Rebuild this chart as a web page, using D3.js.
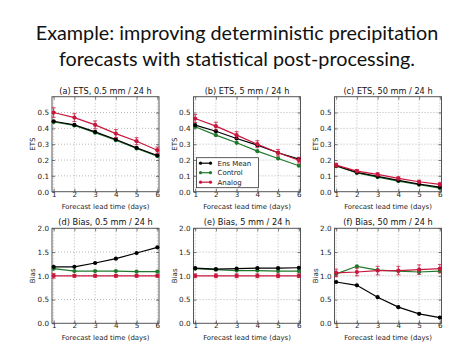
<!DOCTYPE html>
<html><head><meta charset="utf-8">
<script src="https://cdn.jsdelivr.net/npm/d3@7"></script>
<style>
html,body{margin:0;padding:0;background:#fff;}
svg{display:block;}
</style></head>
<body>
<svg id="chart" width="474" height="355"></svg>
<script>
const days = [1, 2, 3, 4, 5, 6];
const seriesNames = ["Ens Mean", "Control", "Analog"];
const seriesColors = ["#000000", "#1e7a2a", "#c8173c"];
const titleLines = ["Example: improving deterministic precipitation", "forecasts with statistical post-processing."];
const panelTitles = ["(a) ETS, 0.5 mm / 24 h", "(b) ETS, 5 mm / 24 h", "(c) ETS, 50 mm / 24 h",
                     "(d) Bias, 0.5 mm / 24 h", "(e) Bias, 5 mm / 24 h", "(f) Bias, 50 mm / 24 h"];
const etsTicks = [0.0, 0.1, 0.2, 0.3, 0.4, 0.5];
const biasTicks = [0.0, 0.5, 1.0, 1.5, 2.0];

// ETS panels
const etsA_ens = [0.445, 0.422, 0.378, 0.330, 0.277, 0.229];
const etsA_ctl = [0.440, 0.418, 0.373, 0.325, 0.273, 0.225];
const etsA_ana = [0.500, 0.468, 0.422, 0.367, 0.319, 0.262];
const etsA_err = [0.030, 0.025, 0.025, 0.025, 0.022, 0.020];

const etsB_ens = [0.420, 0.382, 0.336, 0.294, 0.246, 0.206];
const etsB_ctl = [0.410, 0.357, 0.309, 0.256, 0.210, 0.164];
const etsB_ana = [0.462, 0.414, 0.357, 0.300, 0.246, 0.199];
const etsB_err = [0.025, 0.025, 0.022, 0.022, 0.020, 0.018];

const etsC_ens = [0.164, 0.122, 0.097, 0.071, 0.048, 0.029];
const etsC_ctl = [0.162, 0.118, 0.092, 0.067, 0.044, 0.023];
const etsC_ana = [0.168, 0.130, 0.109, 0.084, 0.063, 0.046];
const etsC_err = [0.012, 0.010, 0.010, 0.010, 0.010, 0.010];

// Bias panels
const biasD_ens = [1.19, 1.19, 1.27, 1.36, 1.48, 1.60];
const biasD_ctl = [1.15, 1.10, 1.10, 1.10, 1.09, 1.09];
const biasD_ana = [1.00, 1.00, 1.00, 1.00, 1.00, 1.00];
const biasD_err = [0.05, 0.03, 0.03, 0.03, 0.03, 0.03];

const biasE_ens = [1.16, 1.14, 1.15, 1.16, 1.16, 1.17];
const biasE_ctl = [1.15, 1.13, 1.11, 1.11, 1.10, 1.10];
const biasE_ana = [1.00, 1.00, 1.00, 1.00, 1.00, 1.00];
const biasE_err = [0.04, 0.04, 0.04, 0.04, 0.04, 0.04];

const biasF_ens = [0.87, 0.80, 0.55, 0.34, 0.20, 0.12];
const biasF_ctl = [1.04, 1.20, 1.12, 1.10, 1.08, 1.10];
const biasF_ana = [1.06, 1.08, 1.11, 1.11, 1.13, 1.15];
const biasF_err = [0.08, 0.08, 0.09, 0.09, 0.10, 0.09];

const panels = [
  {title: panelTitles[0], kind: "ets", data: [etsA_ens, etsA_ctl, etsA_ana], err: etsA_err},
  {title: panelTitles[1], kind: "ets", data: [etsB_ens, etsB_ctl, etsB_ana], err: etsB_err, legend: true},
  {title: panelTitles[2], kind: "ets", data: [etsC_ens, etsC_ctl, etsC_ana], err: etsC_err},
  {title: panelTitles[3], kind: "bias", data: [biasD_ens, biasD_ctl, biasD_ana], err: biasD_err},
  {title: panelTitles[4], kind: "bias", data: [biasE_ens, biasE_ctl, biasE_ana], err: biasE_err},
  {title: panelTitles[5], kind: "bias", data: [biasF_ens, biasF_ctl, biasF_ana], err: biasF_err}
];

const svg = d3.select("#chart");
svg.append("rect").attr("width", 474).attr("height", 355).attr("fill", "#fff");

const tg = svg.append("g").attr("font-family", "Lato, 'Open Sans', sans-serif").attr("fill", "#111");
titleLines.forEach((t, i) => {
  tg.append("text").attr("x", 237).attr("y", 40 + i * 25.5).attr("text-anchor", "middle")
    .attr("font-size", 19.8).text(t);
});

const lefts = [52, 193.5, 334.5];
const tops = [96.7, 228.3];
const W = 107, H = 95;
const axisFont = "'DejaVu Sans', sans-serif";

panels.forEach((p, i) => {
  const col = i % 3, row = Math.floor(i / 3);
  const g = svg.append("g").attr("transform", `translate(${lefts[col]},${tops[row]})`);
  const x = d3.scaleLinear().domain([0.92, 6.08]).range([0, W]);
  const ymax = p.kind === "ets" ? 0.6 : 2.0;
  const ticks = p.kind === "ets" ? etsTicks : biasTicks;
  const y = d3.scaleLinear().domain([0, ymax]).range([H, 0]);

  // grid
  g.append("g").selectAll("line").data(days).join("line")
    .attr("x1", d => x(d)).attr("x2", d => x(d)).attr("y1", 0).attr("y2", H)
    .attr("stroke", "#999").attr("stroke-width", 0.7).attr("stroke-dasharray", "1,2");
  g.append("g").selectAll("line").data(ticks.filter(t => t > 0 && t < ymax)).join("line")
    .attr("x1", 0).attr("x2", W).attr("y1", d => y(d)).attr("y2", d => y(d))
    .attr("stroke", "#999").attr("stroke-width", 0.7).attr("stroke-dasharray", "1,2");

  // axes
  const fmt = d3.format(".1f");
  const xa = g.append("g").attr("transform", `translate(0,${H})`)
    .call(d3.axisBottom(x).tickValues(days).tickSize(-3).tickPadding(1).tickFormat(d3.format("d")));
  const ya = g.append("g").call(d3.axisLeft(y).tickValues(ticks).tickSize(-3).tickPadding(3).tickFormat(fmt));
  const xa2 = g.append("g").call(d3.axisTop(x).tickValues(days).tickSize(-3).tickFormat(""));
  const ya2 = g.append("g").attr("transform", `translate(${W},0)`).call(d3.axisRight(y).tickValues(ticks).tickSize(-3).tickFormat(""));
  [xa, ya, xa2, ya2].forEach(a => {
    a.select(".domain").remove();
    a.selectAll("line").attr("stroke", "#444").attr("stroke-width", 0.7);
    a.selectAll("text").attr("font-family", axisFont).attr("font-size", 7.2).attr("fill", "#222");
  });
  xa.selectAll("text").attr("dy", "0.55em");
  g.append("rect").attr("width", W).attr("height", H).attr("fill", "none")
    .attr("stroke", "#555").attr("stroke-width", 1);

  // title
  g.append("text").attr("x", W / 2).attr("y", -3).attr("text-anchor", "middle")
    .attr("font-family", axisFont).attr("font-size", 8.2).attr("fill", "#111").text(p.title);
  // labels
  g.append("text").attr("x", W / 2).attr("y", H + 17).attr("text-anchor", "middle")
    .attr("font-family", axisFont).attr("font-size", 6.9).attr("fill", "#222").text("Forecast lead time (days)");
  g.append("text").attr("transform", `translate(${-17},${H / 2}) rotate(-90)`).attr("text-anchor", "middle")
    .attr("font-family", axisFont).attr("font-size", 7).attr("fill", "#222")
    .text(p.kind === "ets" ? "ETS" : "Bias");

  const line = d3.line().x((d, k) => x(days[k])).y(d => y(d));
  [1, 0, 2].forEach(s => {
    const vals = p.data[s];
    const c = seriesColors[s];
    if (s === 2) {
      const eg = g.append("g").attr("stroke", c).attr("stroke-width", 0.8);
      vals.forEach((v, k) => {
        const e = p.err[k];
        eg.append("line").attr("x1", x(days[k])).attr("x2", x(days[k])).attr("y1", y(v - e)).attr("y2", y(v + e));
        eg.append("line").attr("x1", x(days[k]) - 2).attr("x2", x(days[k]) + 2).attr("y1", y(v - e)).attr("y2", y(v - e));
        eg.append("line").attr("x1", x(days[k]) - 2).attr("x2", x(days[k]) + 2).attr("y1", y(v + e)).attr("y2", y(v + e));
      });
    }
    g.append("path").datum(vals).attr("d", line).attr("fill", "none").attr("stroke", c).attr("stroke-width", 1.2);
    g.append("g").selectAll("circle").data(vals).join("circle")
      .attr("cx", (d, k) => x(days[k])).attr("cy", d => y(d)).attr("r", 2.1).attr("fill", c);
  });

  if (p.legend) {
    const lg = g.append("g").attr("transform", `translate(3,61)`);
    lg.append("rect").attr("width", 62).attr("height", 30).attr("fill", "#fff")
      .attr("stroke", "#333").attr("stroke-width", 0.8);
    seriesNames.forEach((n, k) => {
      const yy = 5.5 + k * 9.5;
      lg.append("line").attr("x1", 3).attr("x2", 15).attr("y1", yy).attr("y2", yy)
        .attr("stroke", seriesColors[k]).attr("stroke-width", 1.2);
      lg.append("circle").attr("cx", 4).attr("cy", yy).attr("r", 1.6).attr("fill", seriesColors[k]);
      lg.append("circle").attr("cx", 14).attr("cy", yy).attr("r", 1.6).attr("fill", seriesColors[k]);
      lg.append("text").attr("x", 21).attr("y", yy).attr("dy", "0.35em")
        .attr("font-family", axisFont).attr("font-size", 7).attr("fill", "#222").text(n);
    });
  }
});
</script>
</body></html>
